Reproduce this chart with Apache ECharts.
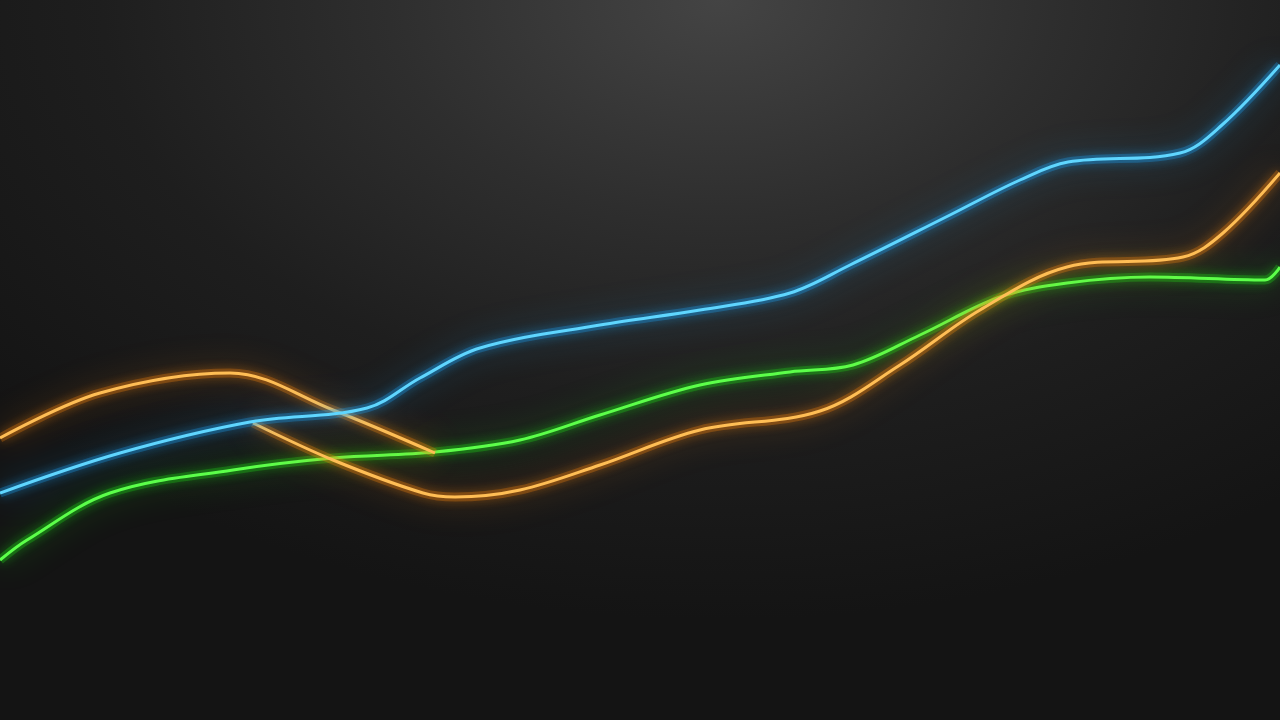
<!DOCTYPE html>
<html>
<head>
<meta charset="utf-8">
<script src="https://cdn.jsdelivr.net/npm/echarts@6/dist/echarts.min.js"></script>
<style>
html,body{margin:0;padding:0;width:1280px;height:720px;overflow:hidden;background:#151515;}
#chart{width:1280px;height:720px;background:radial-gradient(ellipse 950px 620px at 720px 0px,#444444 0%,#2e2e2e 35%,#1e1e1e 65%,#141414 100%);}
</style>
</head>
<body>
<div id="chart"></div>
<script>
// x positions (arbitrary time units) and values for each line
var blueX = [0, 120, 250, 367, 420, 480, 600, 700, 790, 850, 950, 1020, 1068, 1180, 1222, 1280];
var blueY = [227, 267, 298, 312, 342, 372, 395, 410, 427, 455, 505, 540, 558, 567, 595, 655];

var greenX = [0, 27, 110, 233, 333, 435, 520, 600, 700, 790, 853, 920, 1000, 1067, 1150, 1265, 1280];
var greenY = [160, 180, 227, 250, 262, 268, 280, 305, 335, 348, 355, 385, 423, 437, 443, 440, 453];

// orange line folds back on itself: first strand and second strand
var orangeAX = [0, 100, 230, 333, 435];
var orangeAY = [282, 327, 347, 310, 267];
var orangeBX = [253, 333, 423, 455, 520, 600, 700, 820, 900, 980, 1067, 1183, 1223, 1280];
var orangeBY = [297, 260, 227, 223, 230, 255, 290, 309, 355, 410, 453, 463, 487, 547];

function pairs(xs, ys){ return xs.map(function(x,i){ return [x, ys[i]]; }); }

function neon(name, data, core, glow){
  return [{
    name: name + ' glow', type: 'line', data: data, smooth: 0.35, symbol: 'none', silent: true,
    lineStyle: {width: 9, color: glow, opacity: 0.28, shadowBlur: 34, shadowColor: glow}
  },{
    name: name, type: 'line', data: data, smooth: 0.35, symbol: 'none', silent: true,
    lineStyle: {width: 3, color: core, shadowBlur: 12, shadowColor: glow}
  }];
}

var chart = echarts.init(document.getElementById('chart'), null, {renderer: 'canvas'});
var series = [].concat(
  neon('Green', pairs(greenX, greenY), '#5cff4a', '#22e01a'),
  neon('Orange A', pairs(orangeAX, orangeAY), '#ffbe55', '#ff8a10'),
  neon('Orange B', pairs(orangeBX, orangeBY), '#ffbe55', '#ff8a10'),
  neon('Blue', pairs(blueX, blueY), '#5fd6ff', '#1ea8ff')
);
chart.setOption({
  backgroundColor: 'transparent',
  animation: false,
  grid: {left: 0, right: 0, top: 0, bottom: 0},
  xAxis: {type: 'value', min: 0, max: 1280, show: false},
  yAxis: {type: 'value', min: 0, max: 720, show: false},
  series: series
});
</script>
</body>
</html>
